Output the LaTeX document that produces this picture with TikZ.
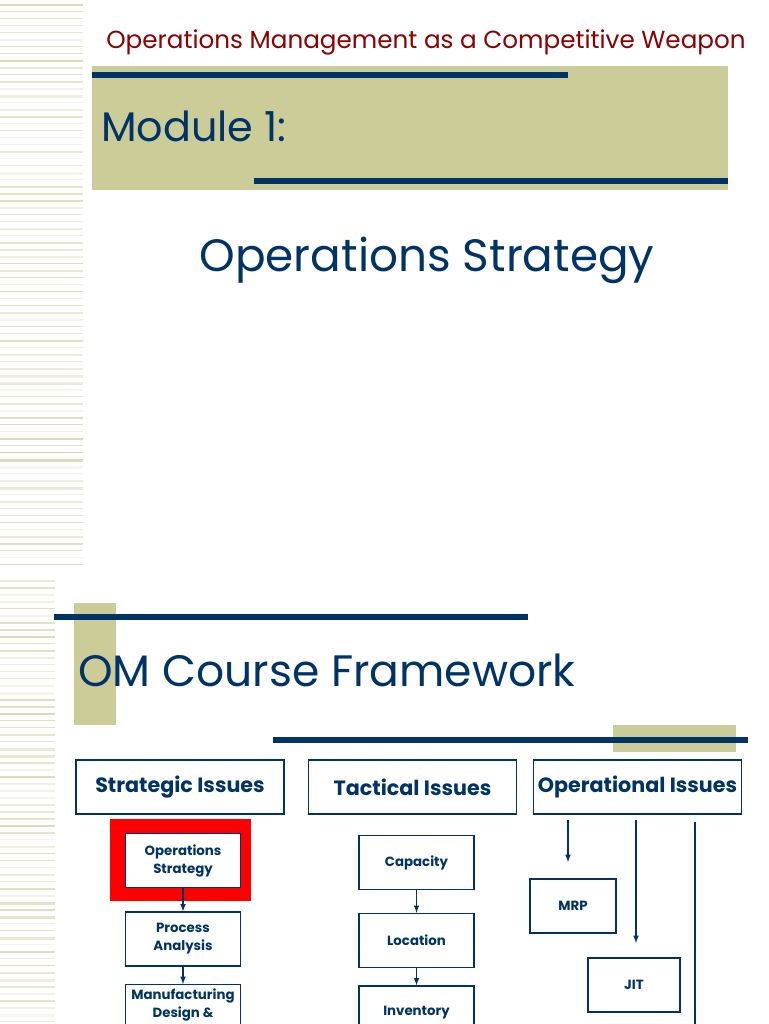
\documentclass[tikz,border=0pt]{standalone}
\usepackage{fontspec}
\setmainfont{Poppins}
\usetikzlibrary{positioning}

\definecolor{navy}{RGB}{0,51,102}
\definecolor{khaki}{RGB}{204,204,153}
\definecolor{stripe}{RGB}{218,218,185}
\definecolor{wine}{RGB}{139,0,0}

\begin{document}
\begin{tikzpicture}[x=0.75pt,y=-0.75pt,>=latex]
\tikzstyle{head}=[draw=navy,line width=1pt,fill=white,text=navy,font=\fontsize{15.5}{18}\selectfont\bfseries,minimum width=156pt,minimum height=40.5pt]
\tikzstyle{box}=[draw=navy,line width=1pt,fill=white,text=navy,font=\fontsize{10}{13.5}\selectfont\bfseries,align=center,minimum width=86.25pt,minimum height=40.5pt,inner sep=1pt]
\tikzstyle{link}=[navy,line width=0.9pt,->]

\useasboundingbox (0,0) rectangle (768,1024);
\clip (0,0) rectangle (768,1024);

% side stripes
\pgfmathsetseed{11}
\foreach \i in {0,...,80}{
  \pgfmathsetmacro{\w}{0.6+2.2*rnd}
  \pgfmathsetmacro{\o}{0.25+0.75*rnd}
  \fill[stripe,opacity=\o] (0,4+7*\i) rectangle (83,4+7*\i+\w);
}
\foreach \i in {0,...,63}{
  \pgfmathsetmacro{\w}{0.6+2.2*rnd}
  \pgfmathsetmacro{\o}{0.25+0.75*rnd}
  \fill[stripe,opacity=\o] (0,580+7*\i) rectangle (55,580+7*\i+\w);
}

% slide 1
\node[text=wine,font=\fontsize{18.5}{22}\selectfont] (title) at (426,42) {Operations Management as a Competitive Weapon};
\fill[khaki] (92,66) rectangle (728,190);
\fill[navy] (92,72) rectangle (568,78);
\fill[navy] (254,178) rectangle (728,184);
\node[anchor=west,text=navy,font=\fontsize{31}{36}\selectfont,inner sep=0pt] (module) at (101,126) {Module 1:};
\node[text=navy,font=\fontsize{34}{40}\selectfont] (topic) at (427,260) {Operations Strategy};

% slide 2
\fill[khaki] (74,603) rectangle (116,725);
\fill[navy] (54,614) rectangle (528,620);
\node[anchor=west,text=navy,font=\fontsize{33}{38}\selectfont,inner sep=0pt] (frame) at (78,670) {OM Course Framework};
\fill[khaki] (613,725) rectangle (736,752);
\fill[navy] (273,737) rectangle (748,743);

\node[head] (strat) at (180,787) {Strategic Issues};
\node[head] (tact) at (412.5,787) {Tactical Issues};
\node[head] (oper) at (637.5,787) {Operational Issues};

\fill[red] (110,819) rectangle (251,901);
\node[box] (ops) at (183,860.5) {Operations\\Strategy};
\node[box] (proc) at (183,939) {Process\\Analysis};
\node[box,anchor=north] (manu) at (183,984) {Manufacturing\\Design \&\\~};
\node[box] (cap) at (416.5,862.5) {Capacity};
\node[box] (loc) at (416.5,940.5) {Location};
\node[box] (inv) at (416.5,1013) {Inventory};
\node[box,minimum width=64.5pt] (mrp) at (573,906) {MRP};
\node[box,minimum width=69pt] (jit) at (634,985) {JIT};

\coordinate (mrpin) at (568,820);
\coordinate (mrpout) at (568,862);
\coordinate (jitin) at (636,820);
\coordinate (jitout) at (636,943);
\coordinate (nextin) at (695,822);
\coordinate (nextout) at (695,1030);

\draw[link] (ops) -- (proc);
\draw[link] (proc) -- (manu);
\draw[link] (cap) -- (loc);
\draw[link] (loc) -- (inv);
\draw[link] (mrpin) -- (mrpout);
\draw[link] (jitin) -- (jitout);
\draw[navy,line width=0.9pt] (nextin) -- (nextout);
\end{tikzpicture}
\end{document}
